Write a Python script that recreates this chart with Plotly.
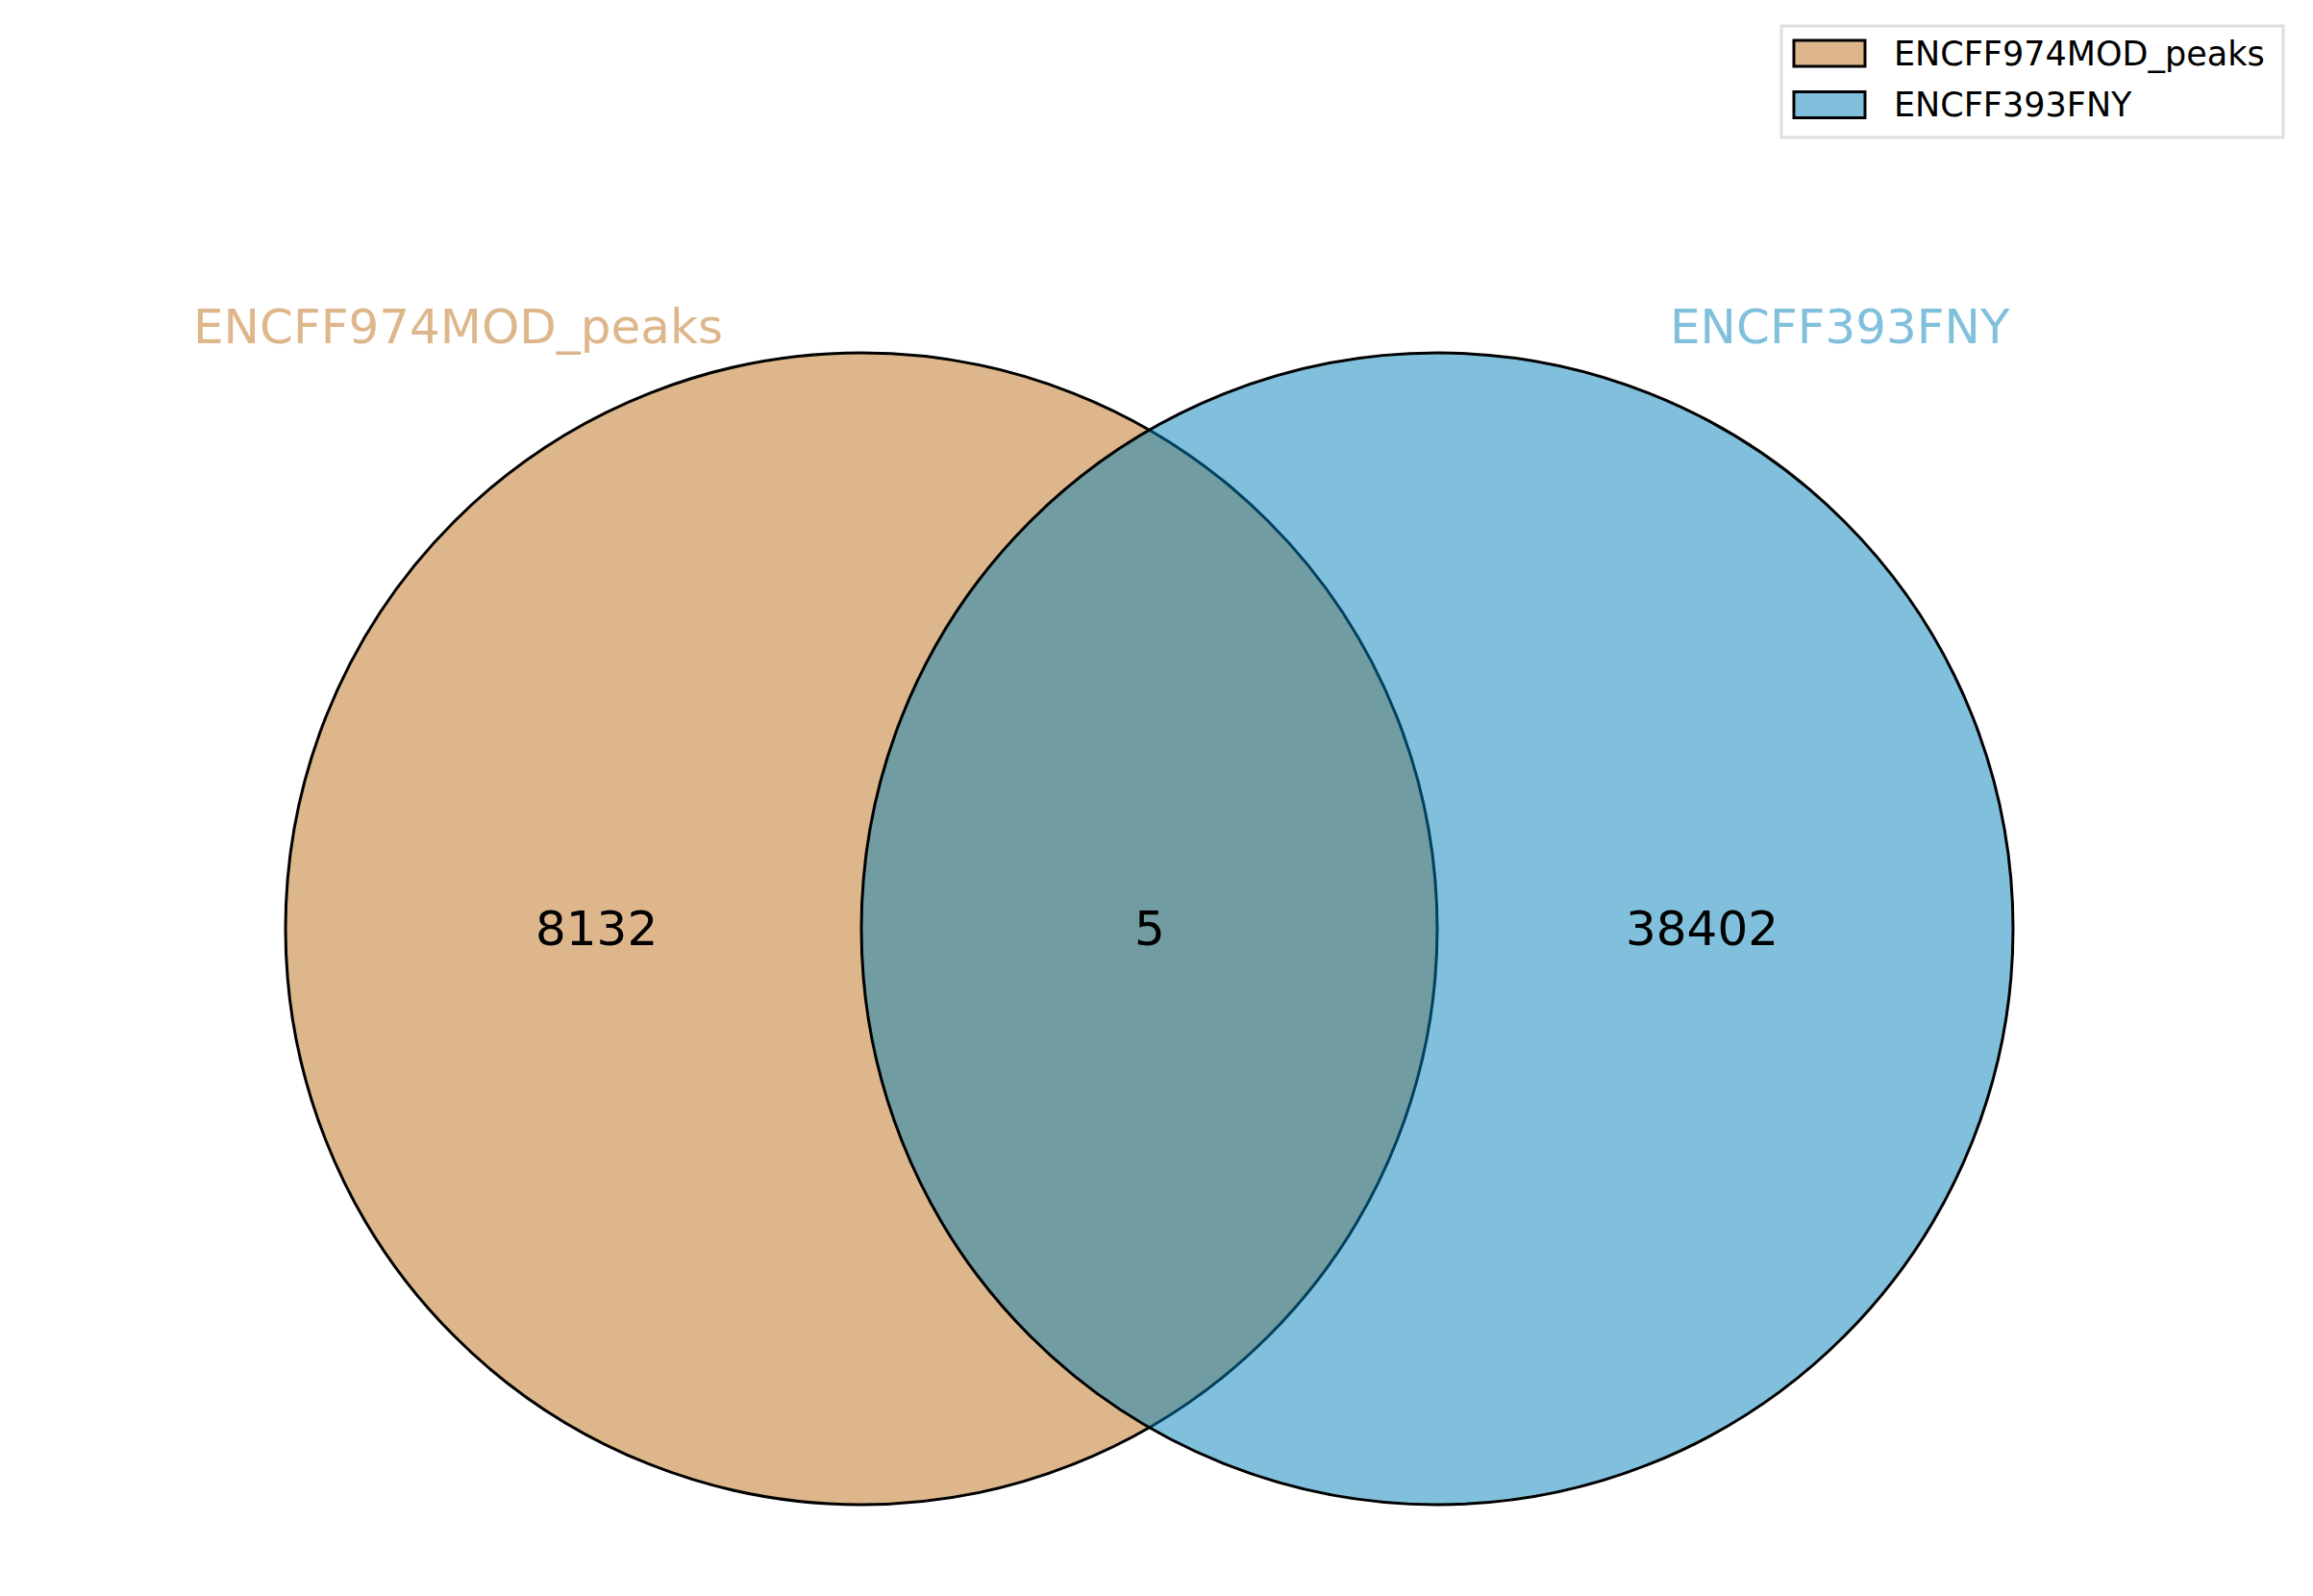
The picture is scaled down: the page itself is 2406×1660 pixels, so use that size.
'''
Venn diagram of two peak sets
'''

# imports
from plotly.graph_objects import Figure

# data
set_names = ["ENCFF974MOD_peaks", "ENCFF393FNY"]
set_colors = ["rgba(187,111,23,0.5)", "rgba(3,129,185,0.5)"]
region_names = ["only_A", "A_and_B", "only_B"]
region_counts = [8132, 5, 38402]

W, H = 2406, 1660


def px_x(p):
    '''pixel -> paper x'''
    return p / W


def px_y(p):
    '''pixel -> paper y (top down)'''
    return 1 - p / H


def rounded_rect(x0, y0, x1, y1, rad):
    '''svg path of a rounded box, in pixels (y down)'''
    return (f"M{x0 + rad},{y0} L{x1 - rad},{y0} Q{x1},{y0} {x1},{y0 + rad} "
            f"L{x1},{y1 - rad} Q{x1},{y1} {x1 - rad},{y1} "
            f"L{x0 + rad},{y1} Q{x0},{y1} {x0},{y1 - rad} "
            f"L{x0},{y0 + rad} Q{x0},{y0} {x0 + rad},{y0} Z")


def venn_plot():
    '''
    two equal circles, centres one radius apart
    '''
    r = 1.0
    unit = 599          # pixels per radius
    cx0, cy0 = 888, 958 # pixel centre of the first circle

    fig = Figure({'layout': {
        'width': W, 'height': H, 'autosize': False,
        'margin': {'l': 0, 'r': 0, 't': 0, 'b': 0},
        'paper_bgcolor': 'white', 'plot_bgcolor': 'white',
        'font': {'family': 'DejaVu Sans', 'color': 'black'},
        'showlegend': False,
        'xaxis': {'range': [-cx0 / unit, (W - cx0) / unit], 'visible': False},
        'yaxis': {'range': [-(H - cy0) / unit, cy0 / unit], 'visible': False},
    }})

    centres = [i * r for i in range(len(set_names))]
    for i, (name, col) in enumerate(zip(set_names, set_colors)):
        cx = centres[i]
        fig.add_shape(type="circle", xref="x", yref="y",
                      x0=cx - r, x1=cx + r, y0=-r, y1=r,
                      fillcolor=col, line={'color': 'black', 'width': 3})
        side = -1 if i == 0 else 1
        fig.add_annotation(x=cx + side * 0.7 * r, y=1.045 * r, text=name,
                           showarrow=False, xanchor="center", yanchor="middle",
                           font={'size': 50, 'color': col})

    # region counts: left only, both, right only
    region_x = [centres[0] - 0.46 * r, (centres[0] + centres[1]) / 2,
                centres[1] + 0.46 * r]
    for x, n in zip(region_x, region_counts):
        fig.add_annotation(x=x, y=0, text=str(n), showarrow=False,
                           xanchor="center", yanchor="middle",
                           font={'size': 50, 'color': 'black'})

    # legend box, drawn by hand to get matplotlib-like patches
    # (pixel path -> paper coords via a layer in pixel space)
    bx0, by0, bx1, by1 = 1845, 19, 2367, 135
    fig.add_shape(type="path", xref="paper", yref="paper",
                  path=rounded_rect(px_x(bx0), px_y(by0), px_x(bx1), px_y(by1), 0),
                  fillcolor="rgba(255,255,255,0.8)",
                  line={'color': '#dedede', 'width': 3})
    for i, (name, col) in enumerate(zip(set_names, set_colors)):
        yc = 47.5 + i * 53.5
        fig.add_shape(type="rect", xref="paper", yref="paper",
                      x0=px_x(1858), x1=px_x(1932),
                      y0=px_y(yc + 13.5), y1=px_y(yc - 13.5),
                      fillcolor=col, line={'color': 'black', 'width': 3})
        fig.add_annotation(xref="paper", yref="paper", x=px_x(1960), y=px_y(yc),
                           text=name, showarrow=False, xanchor="left",
                           yanchor="middle", font={'size': 35, 'color': 'black'})

    fig.write_html("out.html")
    return fig


def main():
    '''
    coucou
    '''
    venn_plot()


if __name__ == "__main__":
    main()
